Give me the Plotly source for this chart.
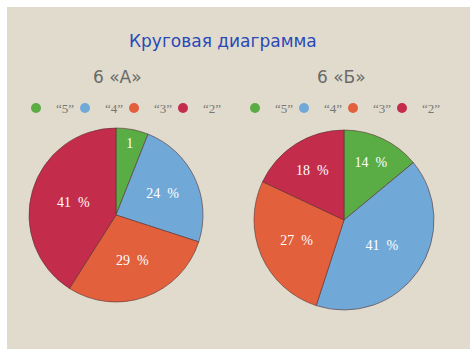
import plotly.graph_objects as go

grades = ["“5”", "“4”", "“3”", "“2”"]
colors = ["#5aac45", "#70a9d8", "#e2603b", "#c42c4c"]
class_a_values = [6, 24, 29, 41]
class_a_text = ["1", "24  %", "29  %", "41  %"]
class_b_values = [14, 41, 27, 18]
class_b_text = ["14  %", "41  %", "27  %", "18  %"]
title = "Круговая диаграмма"
subtitles = ["6 «А»", "6 «Б»"]

W, H = 474, 355
fig = go.Figure()

pie_font = dict(family="Liberation Serif, DejaVu Serif, serif", size=14, color="white")
fig.add_trace(go.Pie(
    labels=grades, values=class_a_values, text=class_a_text,
    textinfo="text", textposition="inside", insidetextorientation="horizontal",
    sort=False, direction="clockwise", rotation=0,
    marker=dict(colors=colors, line=dict(color="rgba(90,50,50,0.6)", width=1)),
    textfont=pie_font, showlegend=False, hoverinfo="label+value",
    domain=dict(x=[29 / W, 203 / W], y=[1 - 302 / H, 1 - 128 / H]),
))
fig.add_trace(go.Pie(
    labels=grades, values=class_b_values, text=class_b_text,
    textinfo="text", textposition="inside", insidetextorientation="horizontal",
    sort=False, direction="clockwise", rotation=0,
    marker=dict(colors=colors, line=dict(color="rgba(90,50,50,0.6)", width=1)),
    textfont=pie_font, showlegend=False, hoverinfo="label+value",
    domain=dict(x=[254 / W, 434 / W], y=[1 - 310 / H, 1 - 130 / H]),
))

# legend-only marker traces (circle dots), plus an invisible spacer entry
for lg in ["legend", "legend2"]:
    for g, c in zip(grades, colors):
        fig.add_trace(go.Scatter(
            x=[None], y=[None], mode="markers", name=g,
            marker=dict(color=c, size=10, symbol="circle"),
            legend=lg, showlegend=True, hoverinfo="skip",
        ))
    fig.add_trace(go.Scatter(
        x=[None], y=[None], mode="markers", name=" ",
        marker=dict(color="rgba(0,0,0,0)", size=1),
        legend=lg, showlegend=True, hoverinfo="skip",
    ))

leg_font = dict(family="Liberation Serif, DejaVu Serif, serif", size=13, color="#777777")
common_leg = dict(orientation="h", yanchor="middle", xanchor="left",
                  font=leg_font, bgcolor="rgba(0,0,0,0)", borderwidth=0,
                  entrywidth=4, entrywidthmode="pixels", itemclick=False)

ann_font = dict(family="DejaVu Sans, sans-serif", size=17, color="#6a6a6a")
fig.update_layout(
    width=W, height=H,
    margin=dict(l=0, r=0, t=0, b=0, autoexpand=False),
    paper_bgcolor="white", plot_bgcolor="rgba(0,0,0,0)",
    xaxis=dict(visible=False), yaxis=dict(visible=False),
    legend=dict(x=16 / W, y=1 - 108 / H, **common_leg),
    legend2=dict(x=235 / W, y=1 - 108 / H, **common_leg),
    shapes=[dict(type="rect", xref="paper", yref="paper",
                 x0=7 / W, x1=470 / W, y0=1 - 349 / H, y1=1 - 7 / H,
                 fillcolor="#e0dbcc", line=dict(width=0), layer="below")],
    annotations=[
        dict(text=title, x=223 / W, y=1 - 41 / H, xref="paper", yref="paper",
             xanchor="center", yanchor="middle", showarrow=False,
             font=dict(family="DejaVu Sans, sans-serif", size=17, color="#2a48b8")),
        dict(text=subtitles[0], x=117 / W, y=1 - 77 / H, xref="paper", yref="paper",
             xanchor="center", yanchor="middle", showarrow=False, font=ann_font),
        dict(text=subtitles[1], x=341 / W, y=1 - 77 / H, xref="paper", yref="paper",
             xanchor="center", yanchor="middle", showarrow=False, font=ann_font),
    ],
)

fig.write_html("out.html")
